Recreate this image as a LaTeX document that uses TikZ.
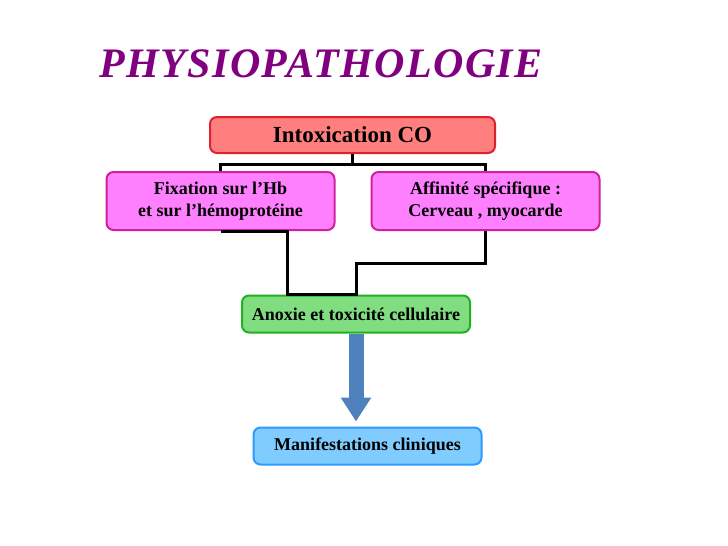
\documentclass[tikz,border=0pt]{standalone}
\usepackage{fontspec}
\setmainfont{Liberation Serif}
\usepackage{tikz}
\usetikzlibrary{positioning, arrows.meta, calc}
\usepackage{xcolor}

\definecolor{titlepurple}{HTML}{800080}
\definecolor{redfill}{HTML}{FF7F7F}
\definecolor{redline}{HTML}{E0202A}
\definecolor{pinkfill}{HTML}{FF80FF}
\definecolor{pinkline}{HTML}{D0209F}
\definecolor{greenfill}{HTML}{80DD80}
\definecolor{greenline}{HTML}{22B022}
\definecolor{bluefill}{HTML}{80CCFF}
\definecolor{blueline}{HTML}{2E9AFE}
\definecolor{arrowblue}{HTML}{4F81BD}

\begin{document}
\begin{tikzpicture}[x=1pt, y=-1pt,
    box/.style={draw, line width=2pt, rounded corners=7pt, align=center,
        inner sep=0pt, font=\bfseries\fontsize{18}{22}\selectfont},
    link/.style={draw=black, line width=3pt}]
\useasboundingbox (0,0) rectangle (728,546);

% Title
\node[anchor=base west, text=titlepurple, inner sep=0pt,
    font=\bfseries\itshape\fontsize{42}{46}\selectfont\addfontfeatures{LetterSpace=3.5}] (title) at (99,77) {PHYSIOPATHOLOGIE};

% Boxes
\node[box, fill=redfill, draw=redline, minimum width=285, minimum height=36,
    font=\bfseries\fontsize{23}{26}\selectfont] (intox) at (352.5,135) {Intoxication CO};
\node[box, fill=pinkfill, draw=pinkline, minimum width=228, minimum height=58,
    font=\bfseries\fontsize{18}{22}\selectfont] (fix) at (220.5,201) {Fixation sur l'Hb\\et sur l'hémoprotéine};
\node[box, fill=pinkfill, draw=pinkline, minimum width=228, minimum height=58,
    font=\bfseries\fontsize{18}{22}\selectfont] (aff) at (485.5,201) {Affinité spécifique :\\Cerveau , myocarde};
\node[box, fill=greenfill, draw=greenline, minimum width=228, minimum height=37] (anox) at (356,314) {Anoxie et toxicité cellulaire};
\node[box, fill=bluefill, draw=blueline, minimum width=228, minimum height=37] (manif) at (367.5,446) {Manifestations cliniques};

% Connectors
\coordinate (bar) at ($(intox.south)+(0,10)$);
\coordinate (lx) at (287,0);
\coordinate (ry) at (0,263);
\draw[link] (intox.south) -- (bar);
\draw[link] (fix.north) |- (bar) -| (aff.north);
\draw[link] (fix.south) -| (anox.north -| lx) -- (anox.north) |- (aff.south |- ry) -- (aff.south);

% Arrow
\coordinate (tip) at ($(anox.south |- manif.north)+(0,-5)$);
\draw[arrowblue, line width=15pt, -{Triangle[width=29pt, length=24pt]}] (anox.south) -- (tip);
\end{tikzpicture}
\end{document}
